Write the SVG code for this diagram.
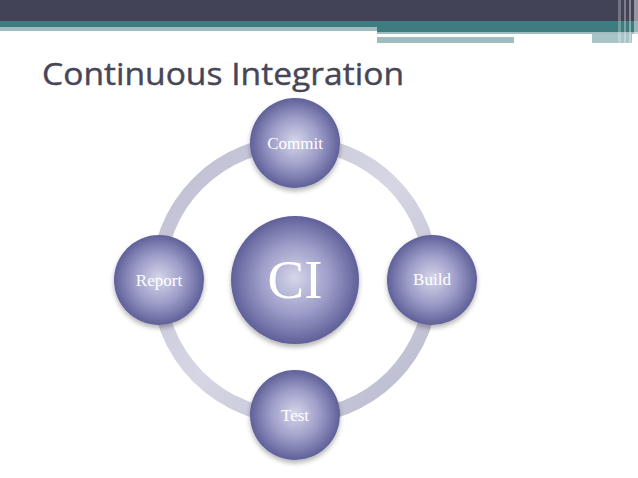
<svg xmlns="http://www.w3.org/2000/svg" width="638" height="478" viewBox="0 0 638 478">
<style>
.node{fill:url(#ball);filter:url(#sh)}
.lbl{font-family:"Liberation Serif","Times New Roman",serif;fill:#ffffff;text-anchor:middle;font-size:17px}
.title{font-family:"Open Sans","DejaVu Sans",sans-serif;fill:#464658;font-size:31px;stroke:#464658;stroke-width:0.4}
</style>
<defs>
<radialGradient id="ball" cx="50%" cy="50%" r="50%" fx="50%" fy="48%">
<stop offset="0" stop-color="#d6d6ea"/>
<stop offset="0.55" stop-color="#9c9cc8"/>
<stop offset="1" stop-color="#60609a"/>
</radialGradient>
<linearGradient id="ringg" x1="0" y1="0" x2="1" y2="1">
<stop offset="0" stop-color="#bcbcd0"/>
<stop offset="0.5" stop-color="#d6d6e4"/>
<stop offset="1" stop-color="#b8b8ce"/>
</linearGradient>
<filter id="sh" x="-20%" y="-20%" width="140%" height="150%">
<feGaussianBlur in="SourceAlpha" stdDeviation="2.5"/>
<feOffset dy="3" result="b"/>
<feComponentTransfer><feFuncA type="linear" slope="0.3"/></feComponentTransfer>
<feMerge><feMergeNode/><feMergeNode in="SourceGraphic"/></feMerge>
</filter>
</defs>
<rect width="638" height="478" fill="#ffffff"/>
<g id="banner">
<rect x="0" y="0" width="638" height="21" fill="#434358"/>
<rect x="0" y="21" width="638" height="6" fill="#3f7c80"/>
<rect x="0" y="27" width="377" height="4" fill="#a0bcc0"/>
<rect x="377" y="27" width="261" height="5" fill="#3f7c80"/>
<rect x="377" y="32" width="261" height="2" fill="#a0bcc0"/>
<rect x="377" y="34" width="215" height="2" fill="#ffffff"/>
<rect x="592" y="34" width="40" height="9" fill="#a8c4c6"/>
<rect x="377" y="37" width="137" height="6" fill="#a0bcc0"/>
<rect x="377" y="36" width="215" height="1" fill="#ffffff"/>
<rect x="618" y="0" width="3" height="43" fill="#ffffff" opacity="0.25"/>
<rect x="624" y="0" width="2" height="43" fill="#ffffff" opacity="0.3"/>
<rect x="629" y="0" width="2" height="43" fill="#ffffff" opacity="0.35"/>
<rect x="634" y="0" width="4" height="43" fill="#ffffff" opacity="0.45"/>
</g>
<text class="title" x="42" y="85" textLength="362" lengthAdjust="spacingAndGlyphs">Continuous Integration</text>
<g id="connectors">
<circle cx="295" cy="280" r="137" fill="none" stroke="url(#ringg)" stroke-width="14"/>
</g>
<g id="node-ci">
<circle class="node" cx="295" cy="280" r="64"/>
<text class="lbl" x="295" y="298" style="font-size:55px">CI</text>
</g>
<g id="node-commit">
<circle class="node" cx="295" cy="143" r="45"/>
<text class="lbl" x="295" y="149">Commit</text>
</g>
<g id="node-build">
<circle class="node" cx="432" cy="280" r="45"/>
<text class="lbl" x="432" y="285">Build</text>
</g>
<g id="node-test">
<circle class="node" cx="295" cy="415" r="45"/>
<text class="lbl" x="295" y="421">Test</text>
</g>
<g id="node-report">
<circle class="node" cx="159" cy="280" r="45"/>
<text class="lbl" x="159" y="286">Report</text>
</g>
</svg>
